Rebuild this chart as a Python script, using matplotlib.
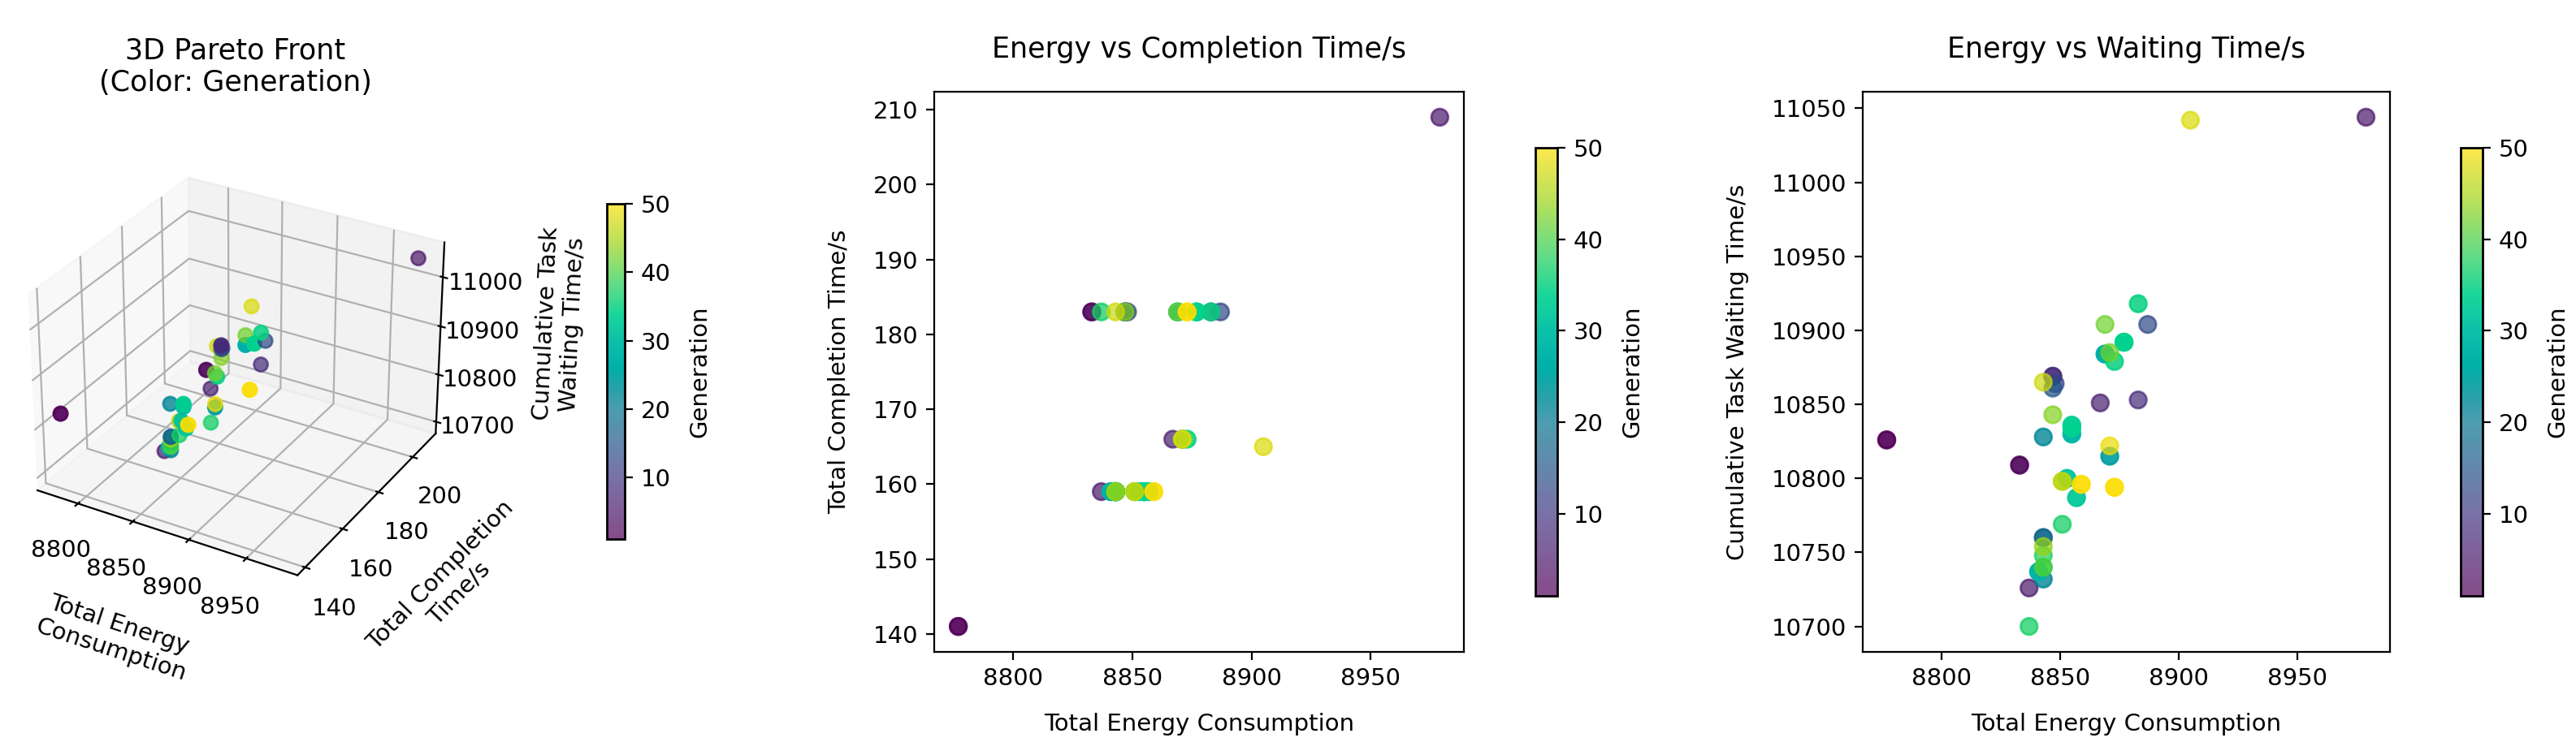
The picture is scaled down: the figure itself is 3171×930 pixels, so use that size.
"""Pareto front: 3D view plus two 2D projections, coloured by generation"""
import matplotlib
matplotlib.use('Agg')
import matplotlib.pyplot as plt
from matplotlib.colors import LinearSegmentedColormap, Normalize

W, H = 3171, 930
DPI = 200
plt.rcParams['font.size'] = 10.5

# repeated rows are the darker, doubly drawn points
energy = [8777, 8777, 8833, 8833, 8979, 8837, 8867, 8847, 8847, 8883, 8848, 8887, 8847,
          8843, 8843, 8843, 8843, 8871, 8869, 8841, 8855, 8853, 8857, 8855, 8855, 8877,
          8877, 8883, 8873, 8837, 8851, 8843, 8843, 8843, 8869, 8871, 8847, 8843, 8851,
          8851, 8843, 8905, 8871, 8859, 8859, 8873, 8873]
completion = [141, 141, 183, 183, 209, 159, 166, 183, 183, 183, 183, 183, 183,
              159, 159, 159, 159, 166, 183, 159, 159, 159, 159, 159, 159, 183,
              183, 183, 166, 183, 159, 159, 159, 159, 183, 166, 183, 159, 159,
              159, 183, 165, 166, 159, 159, 183, 183]
waiting = [10826, 10826, 10809, 10809, 11044, 10726, 10851, 10869, 10869, 10853, 10864, 10904, 10861,
           10760, 10760, 10828, 10732, 10815, 10884, 10737, 10830, 10800, 10787, 10836, 10834, 10892,
           10892, 10918, 10879, 10700, 10769, 10748, 10740, 10740, 10904, 10885, 10843, 10754, 10798,
           10798, 10865, 11042, 10822, 10796, 10796, 10794, 10794]
generation = [1, 1, 2, 2, 5, 5, 6, 8, 8, 8, 12, 13, 15,
              18, 18, 22, 22, 24, 26, 27, 28, 31, 32, 33, 34, 34,
              34, 35, 35, 37, 37, 38, 40, 40, 42, 42, 43, 44, 46,
              46, 47, 48, 49, 50, 50, 50, 50]

energy_ticks = [8800, 8850, 8900, 8950]
gen_ticks = [10, 20, 30, 40, 50]

# colour stops of the bar in the picture (greener and more solid than plain viridis)
stop_gens = [1, 10, 20, 26, 30, 34, 38, 44, 50]
stop_rgb = [(82, 0, 88), (65, 54, 131), (0, 116, 142), (0, 176, 168), (0, 189, 165),
            (0, 210, 143), (26, 205, 88), (150, 211, 22), (252, 222, 0)]
stop_alpha = [0.7, 0.7, 0.7, 1.0, 0.95, 0.9, 0.7, 0.7, 0.7]

gmin, gmax = 1, 50
cmap = LinearSegmentedColormap.from_list(
    'gen', [((g - gmin) / (gmax - gmin), (r / 255, gr / 255, b / 255, a))
            for g, (r, gr, b), a in zip(stop_gens, stop_rgb, stop_alpha)])
norm = Normalize(gmin, gmax)


def rect(x0, y0, x1, y1):
    """pixel box (from the top left) -> figure fractions"""
    return [x0 / W, 1 - y1 / H, (x1 - x0) / W, (y1 - y0) / H]


def add_bar(fig, sc, box):
    cax = fig.add_axes(rect(*box))
    cb = fig.colorbar(sc, cax=cax, ticks=gen_ticks)
    cb.set_label('Generation', labelpad=8)
    cb.outline.set_linewidth(1.0)
    return cb


def panel_2d(fig, box, cbox, y, ylabel, title):
    ax = fig.add_axes(rect(*box))
    sc = ax.scatter(energy, y, c=generation, cmap=cmap, norm=norm, s=55)
    ax.set_xticks(energy_ticks)
    ax.set_xlabel('Total Energy Consumption', labelpad=10)
    ax.set_ylabel(ylabel, labelpad=10)
    ax.set_title(title, fontsize=12.6, pad=15)
    add_bar(fig, sc, cbox)
    return ax


fig = plt.figure(figsize=(W / DPI, H / DPI), dpi=DPI)

ax3 = fig.add_axes(rect(3, 122, 573, 797), projection='3d')
sc3 = ax3.scatter(energy, completion, waiting, c=generation, cmap=cmap, norm=norm, s=38,
                  depthshade=False)
ax3.set_xticks(energy_ticks)
ax3.set_yticks([140, 160, 180, 200])
ax3.set_zticks([10700, 10800, 10900, 11000])
ax3.set_xlabel('Total Energy\nConsumption', labelpad=12)
ax3.set_ylabel('Total Completion\nTime/s', labelpad=12)
ax3.set_zlabel('Cumulative Task\nWaiting Time/s', labelpad=12)
fig.text(290 / W, 1 - 82 / H, '3D Pareto Front\n(Color: Generation)',
         fontsize=12.6, ha='center', va='center')
add_bar(fig, sc3, (747, 251, 769, 664))

panel_2d(fig, (1150, 113, 1802, 803), (1890, 182, 1917, 734),
         completion, 'Total Completion Time/s', 'Energy vs Completion Time/s')
panel_2d(fig, (2293, 113, 2942, 803), (3029, 182, 3056, 734),
         waiting, 'Cumulative Task Waiting Time/s', 'Energy vs Waiting Time/s')

fig.savefig('out.png', dpi=DPI)
